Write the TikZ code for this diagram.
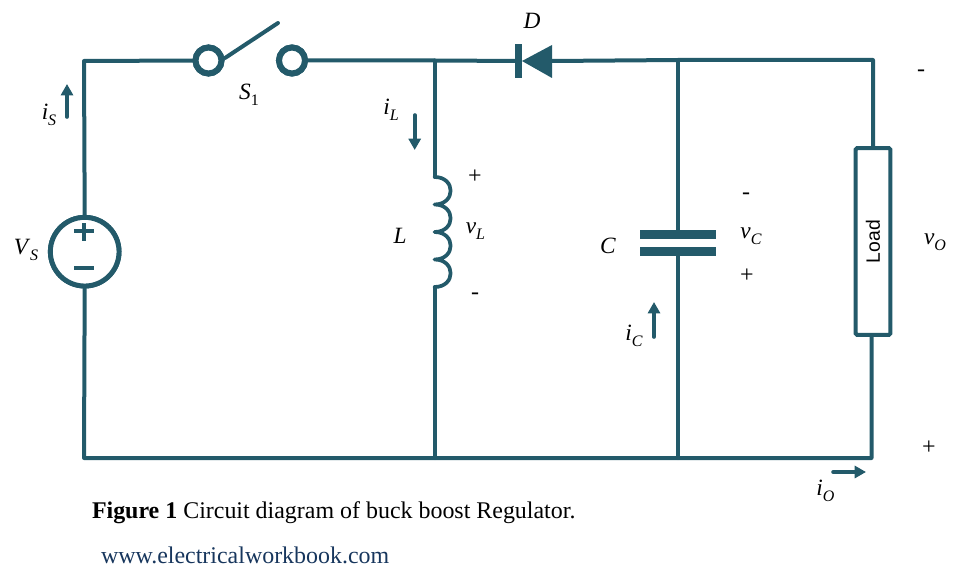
\documentclass[tikz,border=0pt]{standalone}
\usepackage{fontspec}
\usetikzlibrary{arrows.meta}
\setmainfont{Liberation Serif}
\newfontfamily\loadfont{Liberation Sans}
\definecolor{wirec}{HTML}{235A6A}
\definecolor{webc}{HTML}{17365D}
\newcommand{\sym}[2]{\textit{#1}\raisebox{-0.26em}{\fontsize{12}{12}\selectfont\textit{#2}}}
\tikzset{
  wire/.style={draw=wirec,line width=3pt,line cap=round,line join=round},
  curarrow/.style={draw=wirec,line width=2.7pt,line cap=round,-{Triangle[width=9pt,length=8.5pt]}},
  term/.style={circle,draw=wirec,fill=white,line width=4.5pt,minimum size=19.5pt,inner sep=0pt,outer sep=0pt},
  source/.style={circle,draw=wirec,fill=white,line width=3.7pt,minimum size=51.5pt,inner sep=0pt,outer sep=0pt},
  plate/.style={rectangle,fill=wirec,minimum width=57pt,minimum height=6.6pt,inner sep=0pt,outer sep=0pt},
  bar/.style={rectangle,fill=wirec,minimum width=5.2pt,minimum height=25.5pt,inner sep=0pt,outer sep=0pt},
  loadbox/.style={rectangle,draw=wirec,fill=white,line width=3pt,rounded corners=1pt,rotate=90,minimum width=140pt,minimum height=26pt,inner sep=0pt,outer sep=0pt,font=\loadfont\fontsize{14.5}{15}\selectfont},
  lab/.style={inner sep=0pt,outer sep=0pt,font=\fontsize{17.5}{18}\selectfont},
  sgn/.style={inner sep=0pt,outer sep=0pt,font=\fontsize{18}{18}\selectfont},
  sign/.style={draw=wirec,line width=3.6pt},
  caption/.style={anchor=base west,inner sep=0pt,outer sep=0pt,font=\fontsize{17.95}{20}\selectfont}
}
\begin{document}
\begin{tikzpicture}[x=0.75pt,y=-0.75pt]
\useasboundingbox (0,0) rectangle (955,581);
% corners and junctions
\coordinate (tl) at (84,61);
\coordinate (bl) at (84,458);
\coordinate (jL) at (434.5,60.5);
\coordinate (jC) at (678,60);
\coordinate (tr) at (873,60);
\coordinate (jLb) at (434.5,458);
\coordinate (jCb) at (678,458);
\coordinate (br) at (871.5,458);
\coordinate (loadT) at (873,148);
\coordinate (loadB) at (871.5,335);
\coordinate (indT) at (434.5,177);
\coordinate (indB) at (434.5,287);
\coordinate (swEnd) at (278,23);
\coordinate (swStart) at (225,58);
\coordinate (diodeA) at (552,61);
% components
\node[term] (swA) at (208.5,60.5) {};
\node[term] (swB) at (292,60.5) {};
\node[source] (vs) at (84.7,251.7) {};
\node[bar] (dbar) at (518.5,61) {};
\node[plate] (capT) at (678,234.5) {};
\node[plate] (capB) at (678,251.5) {};
% wires
\draw[wire] (vs.north) -- (tl) -- (swA.west);
\draw[wire] (vs.south) -- (bl) -- (jLb) -- (jCb) -- (br) -- (loadB);
\draw[wire] (swStart) -- (swEnd);
\draw[wire] (swB.east) -- (jL) -- (dbar);
\draw[wire] (diodeA) -- (jC) -- (tr) -- (loadT);
\draw[wire] (jL) -- (indT);
\draw[wire] (indB) -- (jLb);
\draw[wire] (jC) -- (capT);
\draw[wire] (capB) -- (jCb);
\draw[wire,line width=2.8pt] (indT) .. controls (456,177) and (456,204.5) .. (434.5,204.5)
  .. controls (456,204.5) and (456,232) .. (434.5,232)
  .. controls (456,232) and (456,259.5) .. (434.5,259.5)
  .. controls (456,259.5) and (456,287) .. (indB);
% redraw components above wires
\node[term] at (swA) {};
\node[term] at (swB) {};
\node[source] at (vs) {};
\node[bar] at (dbar) {};
\node[plate] at (capT) {};
\node[plate] at (capB) {};
\fill[wirec] (552,45) -- (522,61) -- (552,78) -- cycle;
\node[loadbox] (load) at (873,241.5) {Load};
% source signs
\draw[sign] (74,231) -- (94,231);
\draw[sign] (84,223) -- (84,241);
\draw[sign] (74,268) -- (94,268);
% current arrows
\coordinate (aSa) at (67,117); \coordinate (aSb) at (67,84);
\coordinate (aLa) at (414.7,115); \coordinate (aLb) at (414.7,150);
\coordinate (aCa) at (654,337); \coordinate (aCb) at (654,302);
\coordinate (aOa) at (833,472); \coordinate (aOb) at (866,472);
\draw[curarrow] (aSa) -- (aSb);
\draw[curarrow] (aLa) -- (aLb);
\draw[curarrow] (aCa) -- (aCb);
\draw[curarrow] (aOa) -- (aOb);
% labels
\node[lab] (liS) at (49,115) {\sym{i}{S}};
\node[lab] (lS1) at (249,95) {\textit{S}\raisebox{-0.26em}{\fontsize{12}{12}\selectfont 1}};
\node[lab] (lVS) at (26,250) {\sym{V}{S}};
\node[lab] (liL) at (391,110) {\sym{i}{L}};
\node[lab] (lD) at (532,21) {\textit{D}};
\node[lab] (lL) at (400,236) {\textit{L}};
\node[lab] (lvL) at (475.5,231) {\sym{v}{L}};
\node[sgn] (lLp) at (475,176.5) {+};
\node[sgn] (lLm) at (475,296) {-};
\node[lab] (lC) at (608,246) {\textit{C}};
\node[lab] (lvC) at (751,236) {\sym{v}{C}};
\node[sgn] (lCm) at (746,196.5) {-};
\node[sgn] (lCp) at (747,275.5) {+};
\node[lab] (liC) at (634,336) {\sym{i}{C}};
\node[lab] (lvO) at (935,242) {\sym{v}{O}};
\node[sgn] (lOm) at (921,73.5) {-};
\node[sgn] (lOp) at (929,447.5) {+};
\node[lab] (liO) at (825.5,491) {\sym{i}{O}};
\node[caption] (cap) at (92,518) {\textbf{Figure 1} Circuit diagram of buck boost Regulator.};
\node[caption,text=webc] (web) at (101,563.5) {www.electricalworkbook.com};
\end{tikzpicture}
\end{document}
